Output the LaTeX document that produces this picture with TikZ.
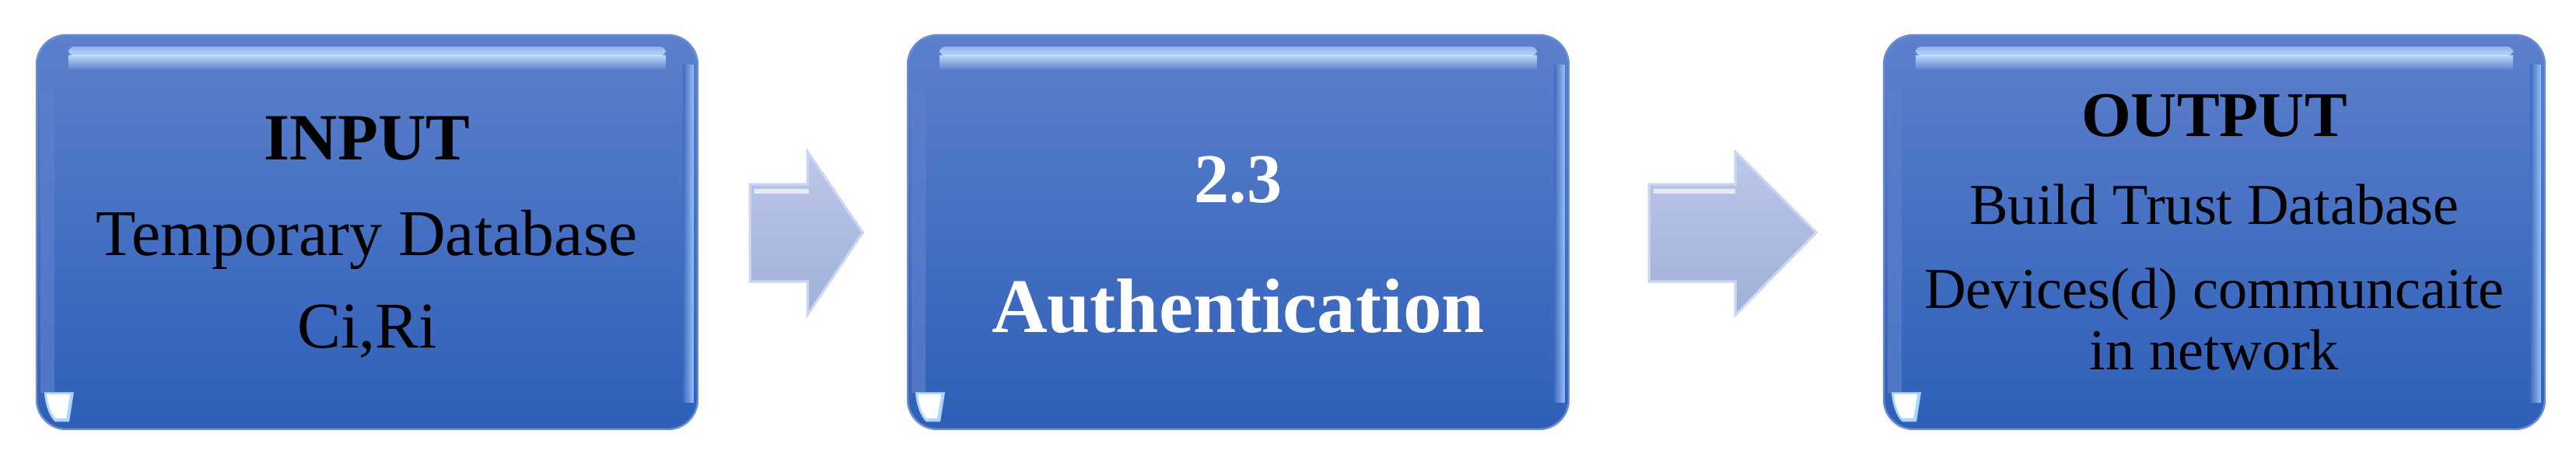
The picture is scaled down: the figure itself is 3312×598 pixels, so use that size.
\documentclass[tikz,border=0pt]{standalone}
\usepackage{fontspec}
\setmainfont{Liberation Serif}
\usetikzlibrary{calc}
\definecolor{boxtop}{RGB}{92,128,204}
\definecolor{boxbot}{RGB}{46,95,184}
\definecolor{boxedge}{RGB}{110,140,208}
\definecolor{hlA}{RGB}{150,190,245}
\definecolor{hlB}{RGB}{200,230,255}
\definecolor{hlC}{RGB}{92,128,204}
\definecolor{leftlite}{RGB}{110,150,225}
\definecolor{rightlite}{RGB}{150,190,245}
\definecolor{glarehalo}{RGB}{170,215,255}
\definecolor{arrtop}{RGB}{188,200,234}
\definecolor{arrbot}{RGB}{160,175,216}
\definecolor{arredge}{RGB}{204,214,242}
\begin{document}
\begin{tikzpicture}[x=0.25pt,y=-0.25pt]
\tikzset{
  glossbox/.style={rounded corners=9.5pt, top color=boxtop, bottom color=boxbot,
    draw=boxedge, line width=0.6pt, minimum width=212.5pt, minimum height=126.75pt, inner sep=0pt},
  blockarrow/.style={top color=arrtop, bottom color=arrbot, draw=arredge, line width=0.8pt, line join=miter},
  blacktxt/.style={anchor=base, text=black, inner sep=0pt},
  whitetxt/.style={anchor=base, text=white, inner sep=0pt}
}
\useasboundingbox (0,0) rectangle (3312,598);

% boxes
\node[glossbox] (b1) at (472,298.5) {};
\node[glossbox] (b2) at (1592,298.5) {};
\node[glossbox] (b3) at (2847,298.5) {};

% gloss details
\foreach \b in {b1,b2,b3}{
  % top highlight band (bright upper part fading downward)
  \shade[top color=hlA, bottom color=hlB, rounded corners=2pt, opacity=0.85]
    ([xshift=10.5pt,yshift=-4pt]\b.north west) rectangle ([xshift=-10.5pt,yshift=-7pt]\b.north east);
  \shade[top color=hlB, bottom color=hlC, opacity=0.85]
    ([xshift=10.5pt,yshift=-7pt]\b.north west) rectangle ([xshift=-10.5pt,yshift=-11.5pt]\b.north east);
  % left edge lighter strip
  \shade[left color=boxtop, middle color=leftlite, right color=boxtop, opacity=0.7]
    ([xshift=1.5pt,yshift=-18pt]\b.north west) rectangle ([xshift=6pt,yshift=12pt]\b.south west);
  % right edge highlight
  \shade[left color=boxbot!60!boxtop, middle color=white, right color=rightlite]
    ([xshift=-5pt,yshift=-10pt]\b.north east) rectangle ([xshift=-1.6pt,yshift=9pt]\b.south east);
  % bottom-left glare
  \fill[glarehalo]
    ([xshift=2.8pt,yshift=12.2pt]\b.south west) -- ++(38,0) -- ++(-6,38) -- ++(-18,0)
    .. controls ++(-8,-6) and ++(0,12) .. cycle;
  \fill[white]
    ([xshift=3.6pt,yshift=11.6pt]\b.south west) -- ++(30,0) -- ++(-5,31) -- ++(-14,0)
    .. controls ++(-6,-5) and ++(0,9) .. cycle;
}

% block arrows between boxes
\path[blockarrow] ([xshift=16.5pt]b1.east) ++(0,-61.5) -- ++(74,0) -- ++(0,-42)
  -- ++(71,104) -- ++(-71,106) -- ++(0,-43) -- ++(-74,0) -- cycle;
\draw[white, opacity=0.7, line width=1.5pt] ([xshift=18pt,yshift=13pt]b1.east) -- ++(70,0);
\path[blockarrow] ([xshift=25.5pt]b2.east) ++(0,-61.5) -- ++(111,0) -- ++(0,-42)
  -- ++(104,104) -- ++(-104,106) -- ++(0,-43) -- ++(-111,0) -- cycle;
\draw[white, opacity=0.7, line width=1.5pt] ([xshift=27pt,yshift=13pt]b2.east) -- ++(105,0);

% texts box 1
\node[blacktxt, font=\bfseries\fontsize{21.25}{25}\selectfont] (t1a) at (472,206) {INPUT};
\node[blacktxt, font=\fontsize{21}{25}\selectfont] (t1b) at (472,329) {Temporary Database};
\node[blacktxt, font=\fontsize{21}{25}\selectfont] (t1c) at (472,448) {Ci,Ri};

% texts box 2
\node[whitetxt, font=\bfseries\fontsize{22.5}{27}\selectfont] (t2a) at (1592,261) {2.3};
\node[whitetxt, font=\bfseries\fontsize{24.8}{30}\selectfont] (t2b) at (1592,427) {Authentication};

% texts box 3
\node[blacktxt, font=\bfseries\fontsize{20.5}{25}\selectfont] (t3a) at (2847,176) {OUTPUT};
\node[blacktxt, font=\fontsize{18.6}{22}\selectfont] (t3b) at (2847,289) {Build Trust Database};
\node[blacktxt, font=\fontsize{18.6}{22}\selectfont] (t3c) at (2847,397) {Devices(d) communcaite};
\node[blacktxt, font=\fontsize{18.6}{22}\selectfont] (t3d) at (2847,475) {in network};
\end{tikzpicture}
\end{document}
